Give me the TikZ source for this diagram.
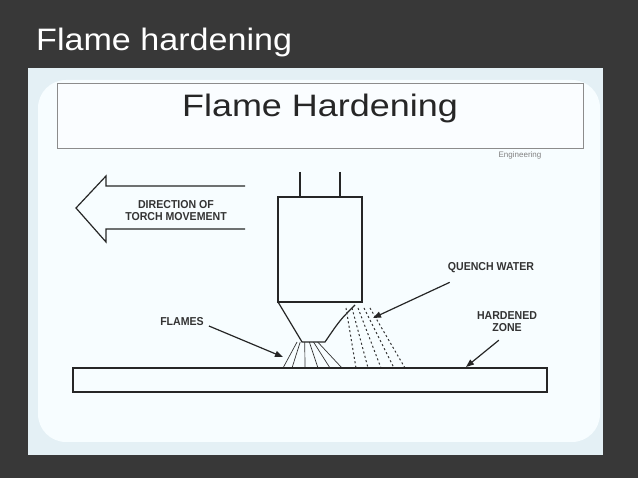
\documentclass[tikz,border=0pt]{standalone}
\usepackage{fontspec}
\setmainfont{Liberation Sans}
\usetikzlibrary{arrows.meta}
\begin{document}
\begin{tikzpicture}[x=1pt,y=-1pt,
  lbl/.style={font=\fontsize{11.5}{12}\selectfont\bfseries, text=black!80, align=center, inner sep=0, xscale=0.92},
  ln/.style={line width=1.2pt, black!85},
  arr/.style={ln, -{Triangle[length=8pt,width=6pt]}}]
\useasboundingbox (0,0) rectangle (638,478);
\fill[black!78] (0,0) rectangle (638,478);
\node[anchor=base west, text=white, font=\fontsize{31}{34}\selectfont, inner sep=0, xscale=1.1] (title) at (36,51) {Flame hardening};
\fill[cyan!8!white!92!gray] (28,68) rectangle (603,455);
\fill[white!97!cyan, rounded corners=28pt] (38,80) rectangle (600,442);
\draw[black!45, fill=white!98!cyan] (57,83) rectangle (583,148);
\node[font=\fontsize{31}{34}\selectfont, text=black!85, xscale=1.16] (head) at (320,108) {Flame Hardening};
\node[font=\fontsize{8}{9}\selectfont, text=black!50] (eng) at (520,155) {Engineering};
% arrow
\draw[ln] (245,186) -- (106,186) -- (106,176) -- (76,208) -- (106,242) -- (106,229) -- (245,229);
\node[lbl] (dir) at (176,211) {DIRECTION OF\\TORCH MOVEMENT};
% torch
\draw[ln] (300,172) -- (300,197);
\draw[ln] (340,172) -- (340,197);
\draw[ln] (278,197) rectangle (362,302);
\draw[ln] (278,302) -- (302,342) -- (325,342) .. controls (340,320) .. (355,305);
% flames
\foreach \x in {283,292,305,318,330,342}
  \draw[black!80, line width=0.7pt] (\x*0.35+198,342) -- (\x,368);
% water
\foreach \a/\b in {346/356,352/368,358/381,364/394,370/405}
  \draw[black!80, line width=1pt, dash pattern=on 2pt off 2.5pt] (\a,308) -- (\b,368);
% plate
\draw[ln] (73,368) rectangle (547,392);
\node[lbl] (flames) at (182,322) {FLAMES};
\node[lbl] (quench) at (491,268) {QUENCH WATER};
\node[lbl] (zone) at (507,322) {HARDENED\\ZONE};
\coordinate (fl) at (283,357);
\coordinate (qw) at (373,318);
\coordinate (hz) at (466,367);
\draw[arr] (flames.east) ++(5,4) -- (fl);
\draw[arr] (quench.south west) ++(2,9) -- (qw);
\draw[arr] (zone.south west) ++(22,8) -- (hz);
\end{tikzpicture}
\end{document}
